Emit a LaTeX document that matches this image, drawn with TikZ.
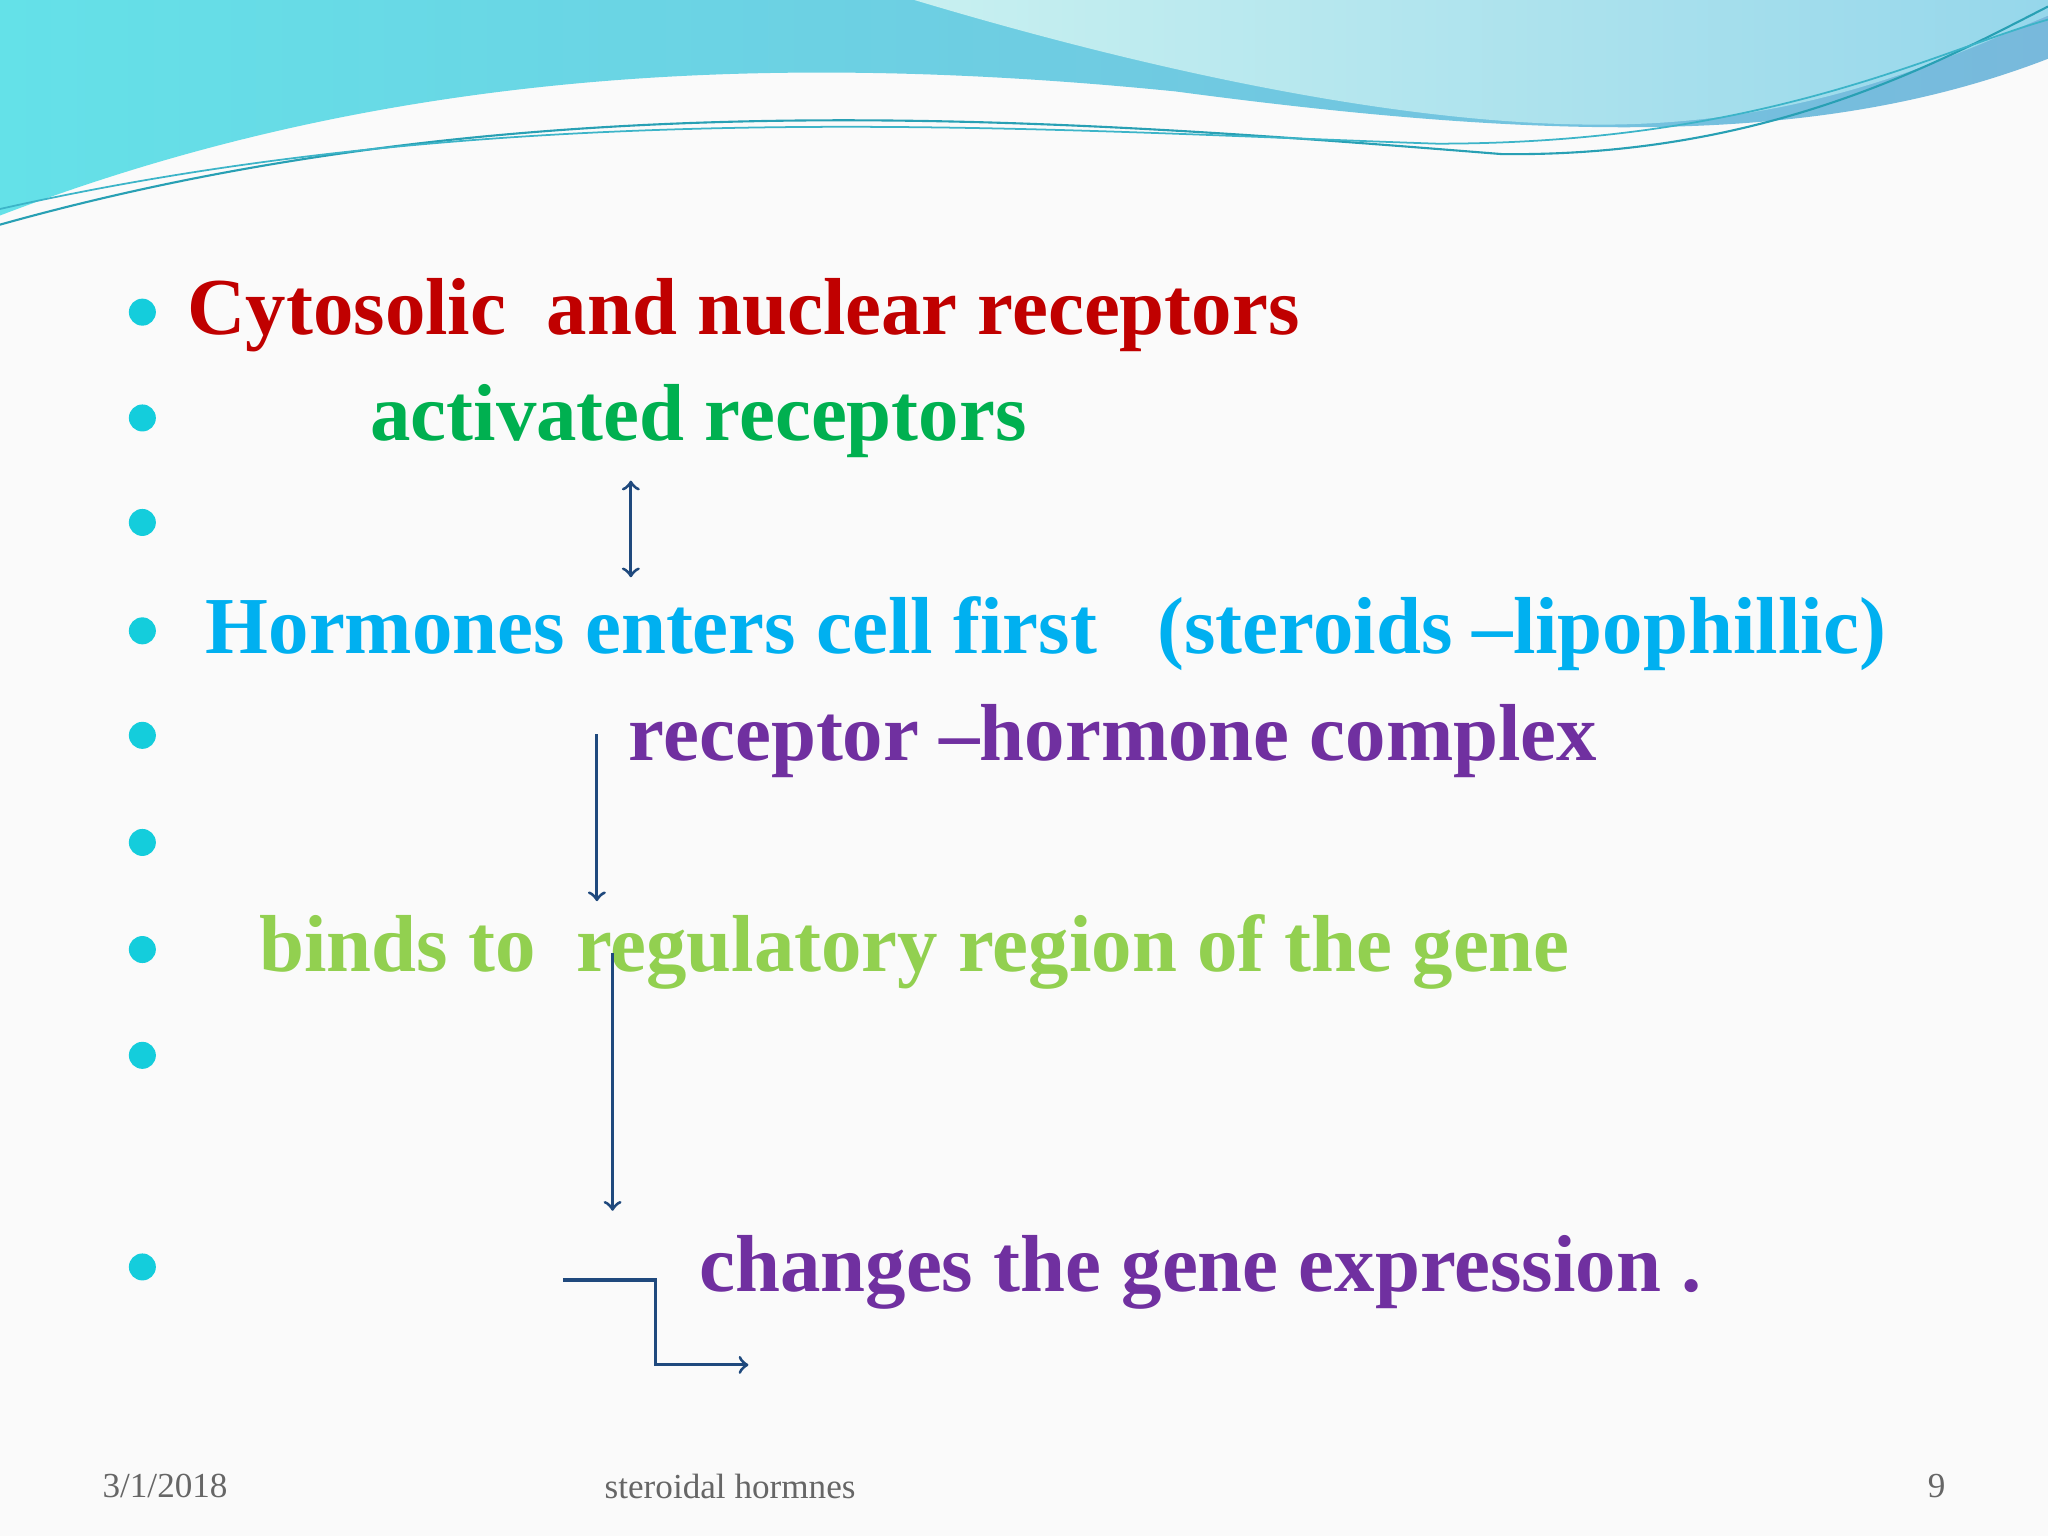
\documentclass[tikz,border=0pt]{standalone}
\usepackage{fontspec}
\setmainfont{Liberation Serif}
\begin{document}
\begin{tikzpicture}[x=0.01306cm,y=-0.01306cm,
  txt/.style={anchor=mid west,inner sep=0pt,font=\fontsize{23}{26}\selectfont\bfseries},
  foot/.style={inner sep=0pt,font=\fontsize{10}{12}\selectfont,text=black!60},
  bul/.style={circle,fill=bulc,inner sep=0pt,minimum size=0.27cm},
  arr/.style={draw=arrc,line width=0.9pt,->,>=to}]
\definecolor{bulc}{RGB}{20,205,220}
\definecolor{arrc}{RGB}{31,73,125}
\definecolor{cred}{RGB}{192,0,0}
\definecolor{cgreen}{RGB}{0,176,80}
\definecolor{cblue}{RGB}{0,176,240}
\definecolor{cpurp}{RGB}{112,48,160}
\definecolor{clime}{RGB}{146,208,80}
\useasboundingbox (0,0) rectangle (1568,1176);
\fill[black!2] (0,0) rectangle (1568,1176);
% header waves
\shade[left color={rgb,255:red,100;green,225;blue,232},right color={rgb,255:red,120;green,185;blue,220}]
 (0,0)--(1568,0)--(1568,45) .. controls (1400,110) and (1200,110) .. (900,70) .. controls (600,40) and (300,50) .. (0,165) -- cycle;
\shade[left color={rgb,255:red,200;green,240;blue,240},right color={rgb,255:red,150;green,215;blue,235}]
 (700,0) .. controls (900,60) and (1100,100) .. (1250,95) .. controls (1400,90) and (1500,40) .. (1568,12) -- (1568,0) -- cycle;
\draw[draw={rgb,255:red,40;green,160;blue,180},line width=0.6pt] (0,172) .. controls (400,60) and (800,90) .. (1150,118) .. controls (1350,120) and (1480,50) .. (1568,5);
\draw[draw={rgb,255:red,60;green,180;blue,200},line width=0.5pt] (0,160) .. controls (400,70) and (800,100) .. (1100,110) .. controls (1350,110) and (1480,40) .. (1568,15);
% bullets
\foreach \y [count=\i] in {239,320,400,483,563,645,727,808,970}
  \node[bul] (b\i) at (109,\y) {};
% texts
\node[txt,text=cred] (t1) at (143,250) {Cytosolic\ \ and nuclear receptors};
\node[txt,text=cgreen] (t2) at (283,331) {activated receptors};
\node[txt,text=cblue] (t3) at (157,494) {Hormones enters cell first \ \ (steroids –lipophillic)};
\node[txt,text=cpurp] (t4) at (481,576) {receptor –hormone complex};
\node[txt,text=clime] (t5) at (198,738) {binds to\ \ regulatory region of the gene};
\node[txt,text=cpurp] (t6) at (535,983) {changes the gene expression .};
% arrows
\coordinate (a1) at (483,368); \coordinate (a2) at (483,442);
\draw[arr,<->] (a1) -- (a2);
\coordinate (c1) at (457,562); \coordinate (c2) at (457,690);
\draw[arr] (c1) -- (c2);
\coordinate (d1) at (469,730); \coordinate (d2) at (469,927);
\draw[arr] (d1) -- (d2);
\coordinate (e1) at (431,980); \coordinate (e2) at (573,1045);
\draw[arr] (e1) -- (502,980) -- (502,1045) -- (e2);
% footer
\node[foot,anchor=west] (f1) at (78,1138) {3/1/2018};
\node[foot] (f2) at (559,1138) {steroidal hormnes};
\node[foot,anchor=east] (f3) at (1490,1138) {9};
\end{tikzpicture}
\end{document}
